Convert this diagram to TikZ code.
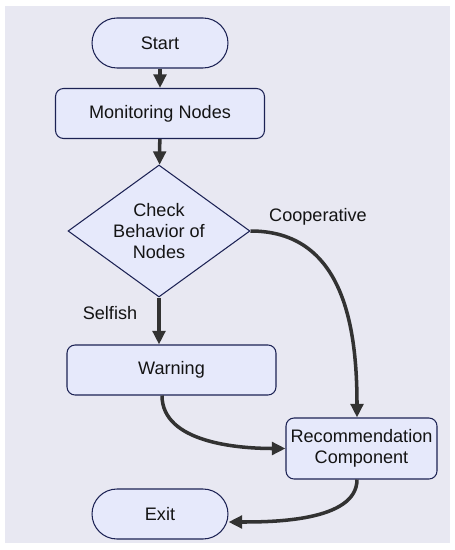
\documentclass[tikz,border=0pt]{standalone}
\usepackage{fontspec}
\setmainfont{Liberation Sans}
\usetikzlibrary{arrows.meta,shapes.geometric}
\definecolor{backgr}{RGB}{232,232,242}
\definecolor{boxfill}{RGB}{230,233,251}
\definecolor{boxline}{RGB}{28,34,84}
\definecolor{arrowgray}{RGB}{50,50,50}
\begin{document}
\begin{tikzpicture}[x=0.02cm, y=-0.02cm,
		every node/.style={font=\fontsize{10.3}{11.9}\selectfont, text=black!92},
		terminal/.style={draw=boxline, fill=boxfill, line width=0.6pt, rounded corners=0.5cm, minimum width=2.72cm, minimum height=1cm, inner sep=0},
		process/.style={draw=boxline, fill=boxfill, line width=0.6pt, rounded corners=0.16cm, minimum height=1cm, inner sep=0, align=center},
		decision/.style={draw=boxline, fill=boxfill, line width=0.6pt, diamond, aspect=1.38, minimum width=3.64cm, minimum height=2.64cm, inner sep=0, align=center},
		flow/.style={draw=arrowgray, line width=2pt, -{Triangle[length=0.27cm, width=0.25cm]}}]
		%%%%% START %%%%%
		
		\fill[white] (0, 0) rectangle (455, 550);
		\fill[backgr] (5, 6) rectangle (450, 543);
		
		\node[terminal] (start) at (160, 43) {Start};
		\node[process, minimum width=4.18cm] (monitor) at (160, 113.5) {Monitoring Nodes};
		\node[decision] (check) at (159, 231) {Check\\Behavior of\\Nodes};
		\node[process, minimum width=4.18cm] (warning) at (171.5, 370) {Warning};
		\node[process, minimum width=3.02cm, minimum height=1.22cm] (recommend) at (361.5, 448.5) {Recommendation\\Component};
		\node[terminal] (exit) at (160, 514) {Exit};
		
		\draw[flow] (start) -- (monitor);
		\draw[flow] (monitor) -- (check);
		\draw[flow] (check.south) -- (check.south |- warning.north);
		\draw[flow] (check.east) to[out=0, in=90, looseness=1.1] ([xshift=-0.09cm]recommend.north);
		\draw[flow] ([xshift=-0.19cm]warning.south) to[out=-90, in=180, looseness=0.9] (recommend.west);
		\draw[flow] ([xshift=-0.09cm]recommend.south) to[out=-90, in=0, looseness=0.8] ([yshift=-0.16cm]exit.east);
		
		\node (coop) at (318, 217) {Cooperative};
		\node (selfish) at (110, 313) {Selfish};
		
		%%%%% END %%%%%
	\end{tikzpicture}
\end{document}
